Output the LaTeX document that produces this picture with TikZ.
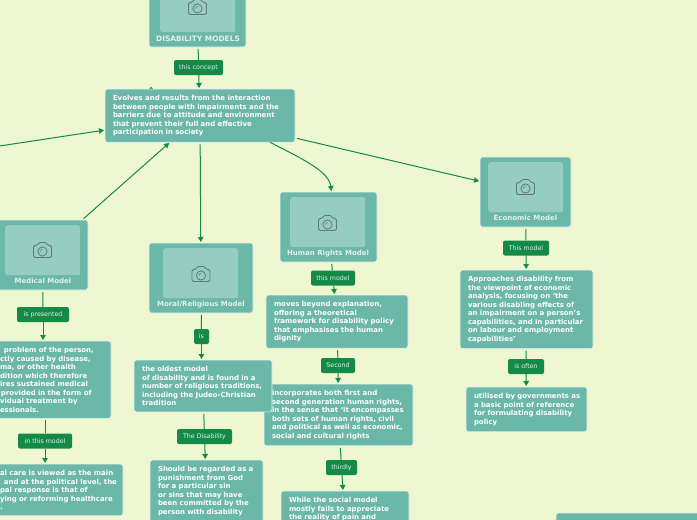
\documentclass[tikz,border=0pt]{standalone}
\usepackage{fontspec}
\setmainfont{DejaVu Sans}
\usetikzlibrary{arrows.meta}
\definecolor{pagegreen}{HTML}{EEF7CF}
\definecolor{boxteal}{HTML}{6BB7A8}
\definecolor{imageteal}{HTML}{96CDC1}
\definecolor{linkgreen}{HTML}{138A48}
\definecolor{titlepale}{HTML}{E2F1EA}
\definecolor{cameragrey}{HTML}{64787A}
\tikzset{
	textbox/.style={draw=white!85!boxteal, line width=0.6pt, outer sep=0pt, fill=boxteal, rounded corners=2.5pt, anchor=north west, inner xsep=8pt, inner ysep=6.25pt, align=left, text=white, font=\bfseries\fontsize{6.95}{8.5}\selectfont},
	modelbox/.style={draw=white!85!boxteal, line width=0.6pt, outer sep=0pt, fill=boxteal, rounded corners=2.5pt, anchor=north west, minimum height=70pt, inner sep=0pt},
	imagebox/.style={fill=imageteal, rounded corners=2.5pt, anchor=north west, minimum width=75pt, minimum height=50pt, inner sep=0pt},
	modeltitle/.style={text=titlepale, inner sep=0pt, font=\bfseries\fontsize{7}{8}\selectfont},
	linkpill/.style={fill=linkgreen, rounded corners=2pt, minimum height=15pt, inner sep=0pt, text=titlepale, font=\fontsize{6.3}{7}\selectfont},
	modelstem/.style={draw=linkgreen, line width=1pt, shorten <=2pt},
	modellink/.style={draw=linkgreen, line width=1pt, shorten >=1pt, -{Triangle[length=5pt,width=5.5pt]}},
	cameraicon/.pic={
		\draw[cameragrey, line width=0.8pt, rounded corners=1.5pt] (-9,-4.5) -- (-5,-4.5) -- (-4,-7.5) -- (4,-7.5) -- (5,-4.5) -- (9,-4.5) -- (9,7.5) -- (-9,7.5) -- cycle;
		\draw[cameragrey, line width=0.8pt] (0,1.5) circle (4.6);
		\draw[cameragrey, line width=0.6pt] (-2,1.5) arc (180:270:2);
	}
}
\begin{document}
\begin{tikzpicture}[x=1pt,y=-1pt]
	\useasboundingbox (0,0) rectangle (697,520);
	\clip (0,0) rectangle (697,520);
	\fill[pagegreen] (0,0) rectangle (697,520);

	% Model boxes
	\node[modelbox, minimum width=97pt] (disability) at (149,-23) {};
	\node[imagebox] (disabilityimage) at (160,-18) {};
	\pic at (197.5,7) {cameraicon};
	\node[modeltitle, font=\bfseries\fontsize{7.4}{8}\selectfont] (disabilitytitle) at (198,38.5) {DISABILITY MODELS};

	\node[modelbox, minimum width=91pt] (medical) at (-3,220) {};
	\node[imagebox] (medicalimage) at (5,225) {};
	\pic at (42.5,250) {cameraicon};
	\node[modeltitle] (medicaltitle) at (43,281) {Medical Model};

	\node[modelbox, minimum width=97pt] (human) at (280,192) {};
	\node[imagebox] (humanimage) at (290,197) {};
	\pic at (327.5,223) {cameraicon};
	\node[modeltitle] (humantitle) at (328,253.5) {Human Rights Model};

	\node[modelbox, minimum width=91pt] (economic) at (480,157) {};
	\node[imagebox] (economicimage) at (488,162) {};
	\pic at (525.5,187) {cameraicon};
	\node[modeltitle] (economictitle) at (525.5,218) {Economic Model};

	% Text boxes
	\node[textbox, text width=174pt] (evolves) at (105,89) {Evolves and results from the interaction\\between people with impairments and the\\barriers due to attitude and environment\\that prevent their full and effective\\participation in society};
	\node[textbox, text width=103pt] (medicaltext) at (-8,341) {\hspace*{4pt}problem of the person,\\ctly caused by disease,\\ma, or other health\\dition which therefore\\ires sustained medical\\\hspace*{1pt}provided in the form of\\vidual treatment by\\essionals.};
	\node[textbox, text width=115pt] (medicalcare) at (-8,464) {al care is viewed as the main\\\mbox{\hspace*{4pt}and at the political level, the}\\pal response is that of\\ying or reforming healthcare\\.};
	\node[textbox, text width=126pt] (moves) at (266,295) {moves beyond explanation,\\offering a theoretical\\framework for disability policy\\that emphasises the human\\dignity};
	\node[textbox, text width=133pt] (incorporates) at (264,384) {incorporates both first and\\second generation human rights,\\in the sense that `it encompasses\\both sets of human rights, civil\\and political as well as economic,\\social and cultural rights};
	\node[textbox, text width=122pt] (oldest) at (134,360) {the oldest model\\of disability and is found in a\\number of religious traditions,\\including the Judeo-Christian\\tradition};
	\node[textbox, text width=97pt] (punishment) at (150,460) {Should be regarded as a\\punishment from God\\for a particular sin\\or sins that may have\\been committed by the\\person with disability\\~};
	\node[textbox, text width=112pt] (whilesocial) at (281,491) {While the social model\\mostly fails to appreciate\\the reality of pain and\\~\\~\\~};
	\node[textbox, text width=117pt] (approaches) at (460,270) {Approaches disability from\\the viewpoint of economic\\analysis, focusing on `the\\various disabling effects of\\an impairment on a person's\\capabilities, and in particular\\on labour and employment\\capabilities'};
	\node[textbox, text width=105pt] (utilised) at (466,387) {\mbox{utilised by governments as}\\a basic point of reference\\for formulating disability\\policy};
	\node[textbox, minimum width=150pt, minimum height=30pt] (cornerbox) at (556,513) {};

	\node[modelbox, minimum width=104pt] (moral) at (149,243) {};
	\node[imagebox] (moralimage) at (163,248) {};
	\pic at (201,274) {cameraicon};
	\node[modeltitle] (moraltitle) at (201,304.5) {Moral/Religious Model};

	% Labels on the links
	\node[linkpill, minimum width=49pt] (thisconcept) at (198.5,67.5) {this concept};
	\node[linkpill, minimum width=52pt] (ispresented) at (43,314.5) {is presented};
	\node[linkpill, minimum width=54pt] (inthismodel) at (45,441) {in this model};
	\node[linkpill, minimum width=15pt] (isoldest) at (201.5,336.5) {is};
	\node[linkpill, minimum width=55pt] (thedisability) at (204.5,436.5) {The Disability};
	\node[linkpill, minimum width=44pt] (thismodel) at (333,278) {this model};
	\node[linkpill, minimum width=34pt] (second) at (338,365.5) {Second};
	\node[linkpill, minimum width=31pt] (thirdly) at (341.5,467.5) {thirdly};
	\node[linkpill, minimum width=46pt] (economicmodel) at (526,248) {This model};
	\node[linkpill, minimum width=36pt] (isoften) at (526,366.5) {is often};

	% Links
	\coordinate (socialend) at (-40,152);
	\draw[modelstem] (disability) -- (thisconcept);
	\draw[modellink] (thisconcept) -- (evolves);
	\draw[modellink] (socialend) -- (evolves);
	\draw[modellink, shorten <=2pt] (medical) -- (evolves);
	\draw[modellink, shorten <=2pt] (evolves) -- (moral);
	\draw[modellink, shorten <=2pt] (evolves) -- (economic);
	\draw[modellink] ([xshift=-25pt]evolves.south east) .. controls (305,160) and (329,172) .. ([xshift=3pt]human.north);
	\fill[linkgreen] (149,88.5) -- (151,87) -- (153,88.5) -- cycle;

	\draw[modelstem] (medical) -- (ispresented);
	\draw[modellink] (ispresented) -- (ispresented |- medicaltext.north);
	\draw[modelstem] (inthismodel |- medicaltext.south) -- (inthismodel);
	\draw[modellink] (inthismodel) -- (inthismodel |- medicalcare.north);

	\draw[modelstem] (moral) -- (isoldest);
	\draw[modellink] (isoldest) -- (isoldest |- oldest.north);
	\draw[modelstem] (oldest) -- (thedisability);
	\draw[modellink] (thedisability) -- (punishment);

	\draw[modelstem] (human) -- (thismodel);
	\draw[modellink] (thismodel) -- (moves);
	\draw[modelstem] (moves) -- (second);
	\draw[modellink] (second) -- (incorporates);
	\draw[modelstem] (incorporates) -- (thirdly);
	\draw[modellink] (thirdly) -- (whilesocial);

	\draw[modelstem] (economic) -- (economicmodel);
	\draw[modellink] (economicmodel) -- (approaches);
	\draw[modelstem] (approaches) -- (isoften);
	\draw[modellink] (isoften) -- (utilised);
\end{tikzpicture}
\end{document}
